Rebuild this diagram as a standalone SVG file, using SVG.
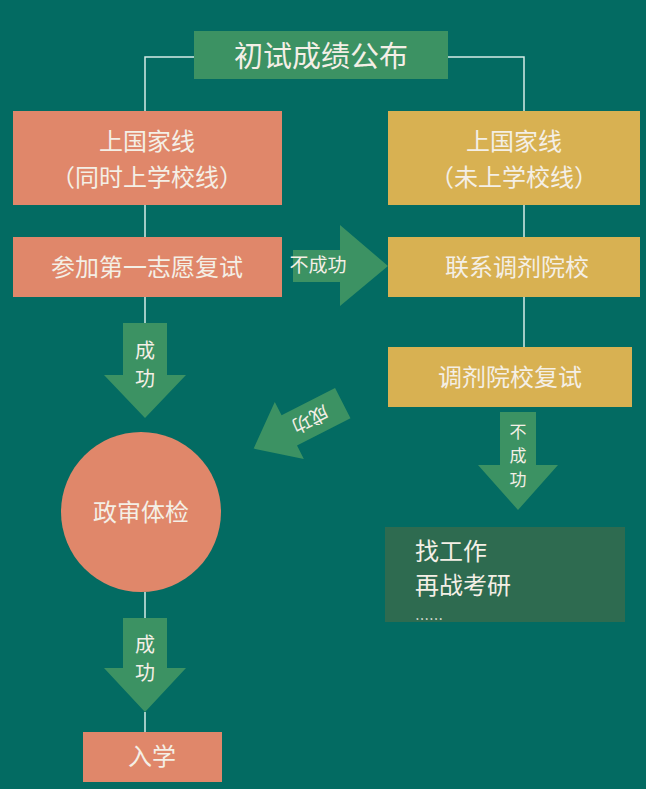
<svg xmlns="http://www.w3.org/2000/svg" width="646" height="789" viewBox="0 0 646 789">
<style>
text{font-family:"Noto Sans CJK SC",sans-serif;fill:#f4efe6}
.ln{stroke:#d6ece6;stroke-width:1.5;fill:none}
.or{fill:#e0876a}.ye{fill:#d8b152}.gr{fill:#3c9263}
</style>
<rect width="646" height="789" fill="#036b62"/>
<g id="connectors">
<path class="ln" d="M194,57H145V111M448,57H524V111M145,205V237M145,297V323M524,205V237M524,297V347M145,592V618M145,712V732"/>
<polygon id="a1" class="gr" points="293,250 340,250 340,225 388,266 340,306 340,282 293,282"/>
<text x="318" y="272" font-size="19" text-anchor="middle">不成功</text>
<polygon id="a2" class="gr" points="123,323 167,323 167,375 186,375 145,418 104,375 123,375"/>
<text x="145" y="358" font-size="20" text-anchor="middle">成</text>
<text x="145" y="386" font-size="20" text-anchor="middle">功</text>
<polygon id="a3" class="gr" points="123,618 167,618 167,668 186,668 145,712 104,668 123,668"/>
<text x="145" y="652" font-size="20" text-anchor="middle">成</text>
<text x="145" y="680" font-size="20" text-anchor="middle">功</text>
<polygon id="a4" class="gr" points="500,412 536,412 536,465 558,465 518,510 478,465 500,465"/>
<text x="518" y="438" font-size="17" text-anchor="middle">不</text>
<text x="518" y="462" font-size="17" text-anchor="middle">成</text>
<text x="518" y="486" font-size="17" text-anchor="middle">功</text>
<g transform="translate(300,425) rotate(-27)">
<polygon id="a5" class="gr" points="48,-17 -12,-17 -12,-32 -52,0 -12,32 -12,17 48,17"/>
<text x="12" y="0" font-size="19" text-anchor="middle" transform="rotate(180,12,0) translate(0,7)">成功</text>
</g>
</g>
<g id="title"><rect x="194" y="31" width="254" height="48" class="gr"/><text x="321" y="67" font-size="29" text-anchor="middle">初试成绩公布</text></g>
<g id="n1"><rect x="13" y="111" width="269" height="94" class="or"/><text x="147" y="150" font-size="24" text-anchor="middle">上国家线</text><text x="147" y="186" font-size="24" text-anchor="middle">（同时上学校线）</text></g>
<g id="n2"><rect x="388" y="111" width="252" height="94" class="ye"/><text x="514" y="150" font-size="24" text-anchor="middle">上国家线</text><text x="514" y="186" font-size="24" text-anchor="middle">（未上学校线）</text></g>
<g id="n3"><rect x="13" y="237" width="269" height="60" class="or"/><text x="147" y="276" font-size="24" text-anchor="middle">参加第一志愿复试</text></g>
<g id="n4"><rect x="388" y="237" width="252" height="60" class="ye"/><text x="517" y="276" font-size="24" text-anchor="middle">联系调剂院校</text></g>
<g id="n5"><rect x="388" y="347" width="244" height="60" class="ye"/><text x="510" y="386" font-size="24" text-anchor="middle">调剂院校复试</text></g>
<g id="n6"><circle cx="141" cy="512" r="80" class="or"/><text x="141" y="521" font-size="24" text-anchor="middle">政审体检</text></g>
<g id="n7"><rect x="385" y="527" width="240" height="95" fill="#2e6b50"/><text x="415" y="560" font-size="24">找工作</text><text x="415" y="594" font-size="24">再战考研</text><text x="415" y="624" font-size="14">……</text></g>
<g id="n8"><rect x="83" y="732" width="139" height="50" class="or"/><text x="152" y="765" font-size="24" text-anchor="middle">入学</text></g>
</svg>
